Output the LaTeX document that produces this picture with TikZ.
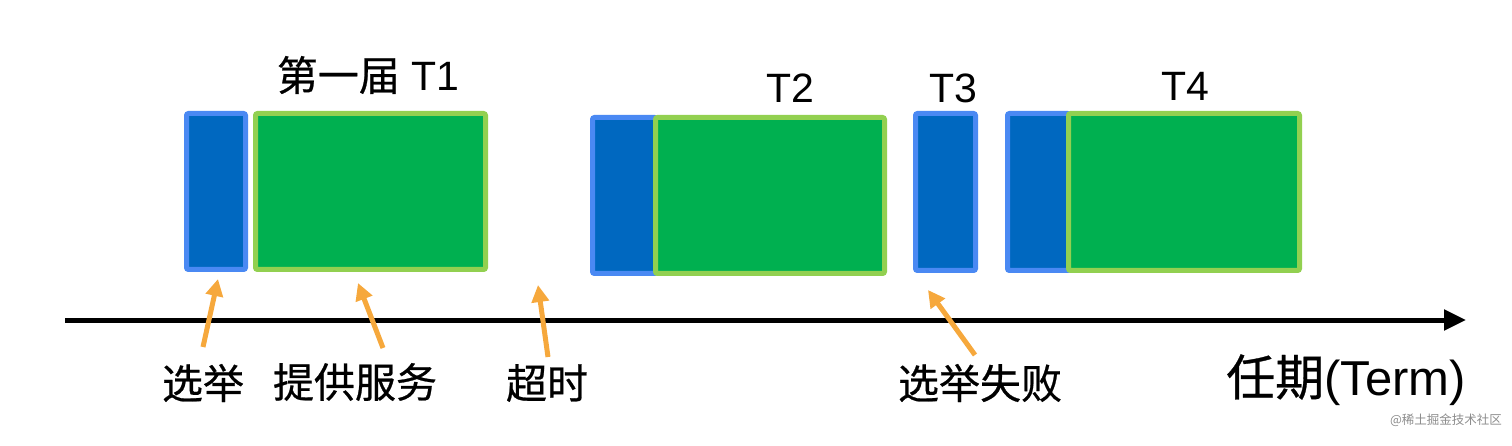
\documentclass[tikz,border=0pt]{standalone}
\usepackage{fontspec}
\setmainfont{Liberation Sans}
\newfontfamily\cjk[FakeBold=0.6]{Noto Sans CJK SC}
\newfontfamily\cjkthin{Noto Sans CJK SC}
\usetikzlibrary{arrows.meta}
\usetikzlibrary{positioning}
\definecolor{electfill}{RGB}{0,104,192}
\definecolor{electline}{RGB}{74,137,243}
\definecolor{servefill}{RGB}{0,176,80}
\definecolor{serveline}{RGB}{146,208,80}
\definecolor{pointcol}{RGB}{246,168,60}
\newcommand{\bigtext}{\fontsize{41}{48}\selectfont}

\begin{document}
\begin{tikzpicture}[x=1pt,y=-1pt,
    box/.style={rectangle,rounded corners=2pt,line width=5pt,inner sep=0pt,outer sep=0pt,minimum height=156pt},
    elect/.style={box,draw=electline,fill=electfill,minimum width=59pt},
    serve/.style={box,draw=serveline,fill=servefill,minimum width=230pt},
    term/.style={font=\bigtext,inner sep=0pt},
    pointer/.style={draw=pointcol,line width=5pt,-{Triangle[length=17pt,width=17pt]}}]
  \useasboundingbox (0,0) rectangle (1512,446);

  % terms
  \node[elect] (elect1) at (216,191.5) {};
  \node[serve] (serve1) at (370.5,191.5) {};
  \node[elect,minimum width=64pt] (elect2) at (624.5,195.5) {};
  \node[serve,minimum width=229pt] (serve2) at (770,195.5) {};
  \node[elect,minimum height=157pt,minimum width=60pt] (elect3) at (945.5,192) {};
  \node[elect,minimum height=157pt,minimum width=62pt] (elect4) at (1038.5,192) {};
  \node[serve,minimum height=157pt,minimum width=231pt] (serve4) at (1184,192) {};

  \node[term] (t1) at (368,75) {{\cjk 第一届} T1};
  \node[term] (t2) at (790,88) {T2};
  \node[term] (t3) at (953,88) {T3};
  \node[term] (t4) at (1185,86) {T4};

  % time axis
  \coordinate (axstart) at (65,320);
  \coordinate (axend) at (1466,320);
  \draw[line width=5pt,-{Triangle[length=22pt,width=20pt]}] (axstart) -- (axend);

  % labels below the axis
  \node[term,font=\bigtext\cjk] (lelect) at (203,383) {选举};
  \node[term,font=\bigtext\cjk] (lserve) at (355,382) {提供服务};
  \node[term,font=\bigtext\cjk] (ltimeout) at (547,383) {超时};
  \node[term,font=\bigtext\cjk] (lfail) at (980,383) {选举失败};
  \node[term,font=\fontsize{49}{56}\selectfont] (lterm) at (1346,380) {{\cjk 任期}(Term)};
  \node[font=\fontsize{12.5}{15}\selectfont\cjkthin,text=black!45,inner sep=0pt] (mark) at (1446,420) {@稀土掘金技术社区};

  % pointers
  \coordinate (p1a) at (203,347);
  \coordinate (p1b) at (218,279);
  \coordinate (p2a) at (383,348);
  \coordinate (p2b) at (358,283);
  \coordinate (p3a) at (548,357);
  \coordinate (p3b) at (538,285);
  \coordinate (p4a) at (975,355);
  \coordinate (p4b) at (928,290);
  \draw[pointer] (p1a) -- (p1b);
  \draw[pointer] (p2a) -- (p2b);
  \draw[pointer] (p3a) -- (p3b);
  \draw[pointer] (p4a) -- (p4b);
\end{tikzpicture}
\end{document}
